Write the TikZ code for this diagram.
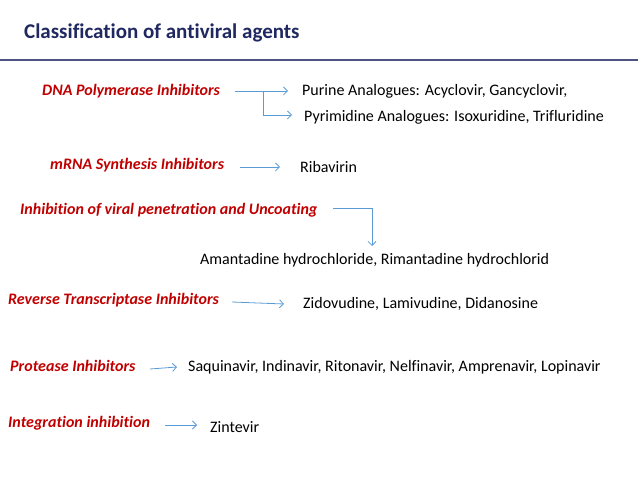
\documentclass[tikz,border=0pt]{standalone}
\usepackage{fontspec}
\usetikzlibrary{arrows.meta}
\setmainfont[Ligatures=NoCommon]{Carlito}
\definecolor{navy}{RGB}{31,40,96}
\definecolor{dred}{RGB}{192,0,0}
\definecolor{lblue}{RGB}{91,155,213}
\begin{document}
\begin{tikzpicture}[x=1pt,y=-1pt,
 lab/.style={font=\fontsize{16}{18}\selectfont\bfseries\itshape,text=dred,anchor=west,inner sep=0},
 txt/.style={font=\fontsize{16}{18}\selectfont,anchor=west,inner sep=0},
 arr/.style={draw=lblue,-{Straight Barb[length=4pt]},line width=0.8pt}]
\useasboundingbox (0,0) rectangle (638,478);
\node[anchor=west,inner sep=0,font=\fontsize{21}{24}\selectfont\bfseries,text=navy] (title) at (24,33) {Classification of antiviral agents};
\draw[navy!80,line width=1.2pt] (0,60) -- (638,60);
\node[lab] (a) at (42,91) {DNA Polymerase Inhibitors};
\node[txt] (a1) at (302,91) {Purine Analogues: Acyclovir, Gancyclovir,};
\node[txt] (a2) at (304,117) {Pyrimidine Analogues: Isoxuridine, Trifluridine};
\coordinate (as) at (235,91); \coordinate (aj) at (263,91);
\draw[arr] (as) -- (288,91);
\draw[arr] (aj) |- (292,115);
\node[lab] (b) at (50,165) {mRNA Synthesis Inhibitors};
\node[txt] (b1) at (300,167) {Ribavirin};
\draw[arr] (240,167) -- (280,167);
\node[lab] (c) at (20,210) {Inhibition of viral penetration and Uncoating};
\node[txt] (c1) at (200,260) {Amantadine hydrochloride, Rimantadine hydrochlorid};
\coordinate (cs) at (333,208);
\draw[arr] (cs) -| (372,246);
\node[lab] (d) at (8,300) {Reverse Transcriptase Inhibitors};
\node[txt] (d1) at (303,304) {Zidovudine, Lamivudine, Didanosine};
\draw[arr] (232,302) -- (284,304);
\node[lab] (e) at (10,366) {Protease Inhibitors};
\node[txt] (e1) at (188,367) {Saquinavir, Indinavir, Ritonavir, Nelfinavir, Amprenavir, Lopinavir};
\draw[arr] (150,369) -- (177,367);
\node[lab] (f) at (8,423) {Integration inhibition};
\node[txt] (f1) at (210,427) {Zintevir};
\draw[arr] (165,425) -- (197,425);
\end{tikzpicture}
\end{document}
